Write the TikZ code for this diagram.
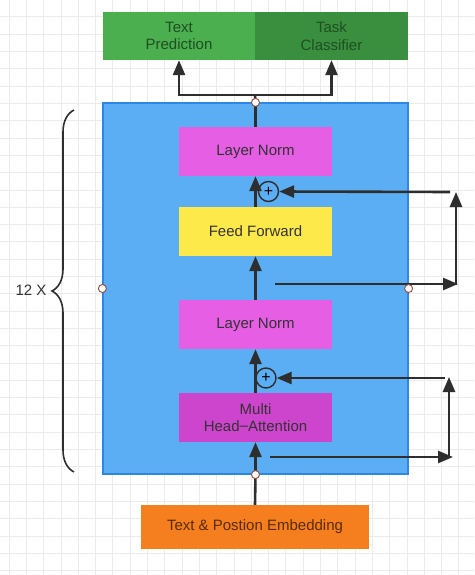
\documentclass[tikz,border=0pt]{standalone}
\usepackage{fontspec}
\setmainfont{Liberation Sans}
\usetikzlibrary{arrows.meta,decorations.pathreplacing,calc}
\definecolor{gridc}{HTML}{EBEBEB}
\definecolor{greenA}{HTML}{4BAE4F}
\definecolor{greenB}{HTML}{3A8F3E}
\definecolor{blueF}{HTML}{5BAEF3}
\definecolor{blueD}{HTML}{2E88E3}
\definecolor{lnC}{HTML}{E55EE3}
\definecolor{ffC}{HTML}{FDE94A}
\definecolor{mhaC}{HTML}{CD45CD}
\definecolor{embC}{HTML}{F57E1F}
\definecolor{lineC}{HTML}{2E2E2E}
\definecolor{txtC}{HTML}{333333}
\definecolor{gtxt}{HTML}{1F4F22}
\definecolor{otxt}{HTML}{5A2C05}
\definecolor{pinC}{HTML}{9A4A3A}
\tikzset{
  box/.style={rectangle, draw=none, minimum width=153pt, minimum height=49pt, inner sep=0pt, align=center, font=\fontsize{15}{17.5}\selectfont, text=txtC},
  conn/.style={draw=lineC, line width=2.6pt},
  arr/.style={conn, -{Triangle[length=15pt,width=12pt]}},
  pin/.style={circle, draw=pinC, fill=white, line width=0.9pt, minimum size=8pt, inner sep=0pt},
  plus/.style={circle, draw=lineC, line width=1.4pt, minimum size=20pt, inner sep=0pt, font=\fontsize{16}{16}\selectfont},
}
\begin{document}
\begin{tikzpicture}[x=1pt,y=-1pt]
\useasboundingbox (0,0) rectangle (474,575);
\fill[white] (0,0) rectangle (474,575);
% grid
\foreach \i in {0,...,27} {
  \draw[gridc, line width=0.8pt] ({9+17.3*\i},0) -- ({9+17.3*\i},575);
}
\foreach \j in {0,...,33} {
  \draw[gridc, line width=0.8pt] (0,{-0.4+17.3*\j}) -- (474,{-0.4+17.3*\j});
}
% top outputs
\node[box, fill=greenA, minimum width=152pt, minimum height=48pt, text=gtxt] (tp) at (179,36) {Text\\Prediction};
\node[box, fill=greenB, minimum width=153pt, minimum height=48pt, text=gtxt] (tc) at (331.5,36) {Task\\Classifier};
% main block
\node[rectangle, fill=blueF, draw=blueD, line width=1.2pt, minimum width=305pt, minimum height=371pt, inner sep=0pt] (blk) at (255.5,288.5) {};
\node[box, fill=lnC] (ln1) at (255.5,151.5) {Layer Norm};
\node[box, fill=ffC] (ff) at (255.5,231.5) {Feed Forward};
\node[box, fill=lnC] (ln2) at (255.5,324.5) {Layer Norm};
\node[box, fill=mhaC] (mha) at (255.5,417.5) {Multi\\Head{\raisebox{0.2ex}{--}}Attention};
\node[box, fill=embC, minimum width=228pt, minimum height=44pt, text=otxt] (emb) at (255,527) {Text \& Postion Embedding};
% add circles
\node[plus] (p1) at (268.5,191.5) {+};
\node[plus] (p2) at (266,378) {+};
% vertical flow
\draw[conn] (emb.north) -- (blk.south);
\draw[arr] (blk.south) -- (mha.south);
\draw[arr] (mha.north) -- (ln2.south);
\draw[arr] (ln2.north) -- (ff.south);
\draw[arr] (ff.north) -- (ln1.south);
\draw[conn] (ln1.north) -- (blk.north);
\coordinate (split) at (255,95);
\draw[conn] (blk.north) -- (split);
\draw[arr] (split) -| (tp.south);
\draw[arr] (split) -| (tc.south);
% residual 1 (feed forward)
\coordinate (a1) at (275,284);
\coordinate (a2) at (458,284);
\coordinate (a3) at (456,285);
\coordinate (a4) at (456,192);
\coordinate (a5) at (450,192);
\draw[arr] (a1) -- (a2);
\draw[arr] (a3) -- (a4);
\draw[arr] (a5) -- (p1.east);
% residual 2 (attention)
\coordinate (b1) at (270,457);
\coordinate (b2) at (453,457);
\coordinate (b3) at (449,458);
\coordinate (b4) at (449,377);
\coordinate (b5) at (445,378);
\draw[arr] (b1) -- (b2);
\draw[arr] (b3) -- (b4);
\draw[arr] (b5) -- (p2.east);
% pins
\node[pin] at (blk.north) {};
\node[pin] at (blk.south) {};
\node[pin] at (blk.west) {};
\node[pin] at (blk.east) {};
% brace
\coordinate (br1) at (74,472);
\coordinate (br2) at (74,110);
\draw[lineC, line width=1.6pt, decorate, decoration={brace, amplitude=22pt, aspect=0.5}] (br1) -- (br2);
\node[font=\fontsize{15}{17}\selectfont, text=txtC] (rep) at (31,290) {12 X};
\end{tikzpicture}
\end{document}
